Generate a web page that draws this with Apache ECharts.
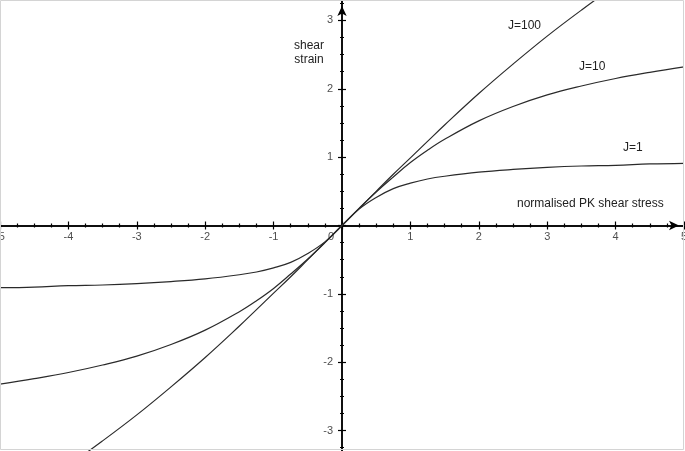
<!DOCTYPE html>
<html>
<head>
<meta charset="utf-8">
<script src="https://cdn.jsdelivr.net/npm/echarts@6/dist/echarts.min.js"></script>
<style>
  html, body { margin: 0; padding: 0; background: #fff; }
  #chart { width: 685px; height: 451px; }
</style>
</head>
<body>
<div id="chart"></div>
<script>
// normalised PK shear stress (x)
const stress = [-5, -4.5, -4, -3.5, -3, -2.5, -2, -1.5, -1.25, -1, -0.75, -0.5, -0.25, 0,
  0.25, 0.5, 0.75, 1, 1.25, 1.5, 2, 2.5, 3, 3.5, 4, 4.5, 5];
// shear strain
const strainJ1 = [-0.91, -0.90, -0.88, -0.87, -0.85, -0.82, -0.78, -0.72, -0.68, -0.62, -0.54, -0.41, -0.24, 0,
  0.24, 0.41, 0.54, 0.62, 0.68, 0.72, 0.78, 0.82, 0.85, 0.87, 0.88, 0.90, 0.91];
const strainJ10 = [-2.32, -2.24, -2.15, -2.04, -1.91, -1.74, -1.53, -1.26, -1.10, -0.92, -0.71, -0.49, -0.25, 0,
  0.25, 0.49, 0.71, 0.92, 1.10, 1.26, 1.53, 1.74, 1.91, 2.04, 2.15, 2.24, 2.32];
const strainJ100 = [-4.14, -3.84, -3.51, -3.15, -2.77, -2.36, -1.93, -1.47, -1.23, -0.99, -0.75, -0.50, -0.25, 0,
  0.25, 0.50, 0.75, 0.99, 1.23, 1.47, 1.93, 2.36, 2.77, 3.15, 3.51, 3.84, 4.14];

// tick labels (drawn next to the axes that cross at the origin)
const xTickLabels = [-5, -4, -3, -2, -1, 0, 1, 2, 3, 4, 5];
const yTickLabels = [-3, -2, -1, 1, 2, 3];

function pairs(ys) {
  return stress.map((x, i) => [x, ys[i]]);
}

const chart = echarts.init(document.getElementById('chart'));
const txt = '#222';
const font = 'Liberation Sans, Arial, sans-serif';

function curve(name, ys) {
  return {
    name: name,
    type: 'line',
    data: pairs(ys),
    smooth: 0.4,
    showSymbol: false,
    lineStyle: { color: '#2a2a2a', width: 1.2 },
    z: 3
  };
}

// ticks on both sides of each axis: a second, unlabelled axis
function xAxisBase(pos, main) {
  return {
    type: 'value',
    position: pos,
    min: -5,
    max: 5,
    interval: 1,
    axisLine: {
      onZero: true, onZeroAxisIndex: 0,
      lineStyle: { color: '#000', width: 1.5 },
      symbol: main ? ['none', 'arrow'] : 'none',
      symbolSize: [7, 10],
      symbolOffset: [0, -5]
    },
    axisTick: { show: true, length: 4, lineStyle: { color: '#000', width: 1.2 } },
    minorTick: { show: true, splitNumber: 4, length: 2, lineStyle: { color: '#000', width: 1.2 } },
    splitLine: { show: false },
    axisLabel: { show: false }
  };
}

function yAxisBase(pos, main) {
  return {
    type: 'value',
    position: pos,
    min: -4,
    max: 4,
    interval: 1,
    axisLine: {
      onZero: true, onZeroAxisIndex: 0,
      lineStyle: { color: '#000', width: 1.5 },
      symbol: main ? ['none', 'arrow'] : 'none',
      symbolSize: [7, 10],
      symbolOffset: [0, -54]
    },
    axisTick: { show: true, length: 4, lineStyle: { color: '#000', width: 1.2 } },
    minorTick: { show: true, splitNumber: 4, length: 2, lineStyle: { color: '#000', width: 1.2 } },
    splitLine: { show: false },
    axisLabel: { show: false }
  };
}

function tickLabels(data, position, distance) {
  return {
    type: 'scatter',
    data: data,
    symbolSize: 0,
    silent: true,
    clip: false,
    z: 5,
    label: {
      show: true,
      position: position,
      distance: distance,
      color: txt,
      fontSize: 11,
      fontFamily: font,
      formatter: p => String(position === 'bottom' ? p.value[0] : p.value[1])
    }
  };
}

function note(text, x, y, align) {
  return {
    type: 'text',
    x: x,
    y: y,
    style: {
      text: text,
      fill: txt,
      font: '12px ' + font,
      align: align || 'left',
      verticalAlign: 'middle',
      lineHeight: 14
    },
    z: 10
  };
}

const xLabelData = xTickLabels.map(v => v === 0
  ? { value: [v, 0], label: { offset: [-11, 0] } }
  : [v, 0]);
const yLabelData = yTickLabels.map(v => [0, v]);

chart.setOption({
  animation: false,
  backgroundColor: '#fff',
  grid: { left: 0, right: 1, top: -48, bottom: -48, containLabel: false, outerBoundsMode: 'none' },
  xAxis: [xAxisBase('bottom', true), xAxisBase('top', false)],
  yAxis: [yAxisBase('left', true), yAxisBase('right', false)],
  series: [
    curve('J=1', strainJ1),
    curve('J=10', strainJ10),
    curve('J=100', strainJ100),
    tickLabels(xLabelData, 'bottom', 6),
    tickLabels(yLabelData, 'left', 9)
  ],
  graphic: [
    {
      type: 'rect',
      shape: { x: 0.5, y: 0.5, width: 683, height: 449 },
      style: { fill: 'none', stroke: '#d4d4d4', lineWidth: 1 },
      silent: true,
      z: 20
    },
    note('shear\nstrain', 309, 53, 'center'),
    note('J=100', 508, 25.5),
    note('J=10', 579, 66.5),
    note('J=1', 623, 147.5),
    note('normalised PK shear stress', 517, 204)
  ]
});
</script>
</body>
</html>
